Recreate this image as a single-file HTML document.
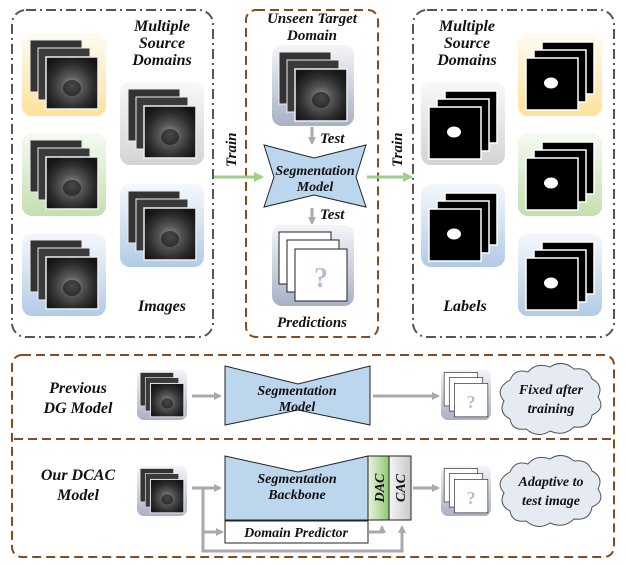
<!DOCTYPE html>
<html><head><meta charset="utf-8"><style>
html,body{margin:0;padding:0;background:#fff;}
svg{display:block;}
text{font-family:"Liberation Serif",serif;font-style:italic;font-weight:bold;fill:#111;}
</style></head><body>
<svg width="626" height="565" viewBox="0 0 626 565" xmlns="http://www.w3.org/2000/svg">
<defs>
<linearGradient id="gy" x1="0" y1="0" x2="0" y2="1"><stop offset="0" stop-color="#fdfbf4"/><stop offset="1" stop-color="#fde29a"/></linearGradient>
<linearGradient id="gg" x1="0" y1="0" x2="0" y2="1"><stop offset="0" stop-color="#f6faf3"/><stop offset="1" stop-color="#c3dfae"/></linearGradient>
<linearGradient id="gb" x1="0" y1="0" x2="0" y2="1"><stop offset="0" stop-color="#f5f8fc"/><stop offset="1" stop-color="#b2cbe6"/></linearGradient>
<linearGradient id="gr" x1="0" y1="0" x2="0" y2="1"><stop offset="0" stop-color="#f8f8f8"/><stop offset="1" stop-color="#d4d4d4"/></linearGradient>
<linearGradient id="gs" x1="0" y1="0" x2="0" y2="1"><stop offset="0" stop-color="#f4f5f8"/><stop offset="1" stop-color="#a7b1c6"/></linearGradient>
<linearGradient id="gdac" x1="0" y1="0" x2="1" y2="0"><stop offset="0" stop-color="#e9f4e0"/><stop offset="1" stop-color="#8fc873"/></linearGradient>
<linearGradient id="gcac" x1="0" y1="0" x2="1" y2="0"><stop offset="0" stop-color="#f6f6f6"/><stop offset="1" stop-color="#c8c8c8"/></linearGradient>
<radialGradient id="mri" cx="0.5" cy="0.55" r="0.6"><stop offset="0" stop-color="#9a9a9a"/><stop offset="0.35" stop-color="#555"/><stop offset="0.7" stop-color="#2c2c2c"/><stop offset="1" stop-color="#151515"/></radialGradient>
<symbol id="mriS" viewBox="0 0 84 84">
<rect x="8" y="7" width="52" height="52" fill="#333" stroke="#eee" stroke-width="1"/>
<rect x="16" y="15" width="52" height="52" fill="#3a3a3a" stroke="#eee" stroke-width="1"/>
<rect x="24" y="24" width="52" height="52" fill="url(#mri)" stroke="#eee" stroke-width="1.5"/>
<ellipse cx="50" cy="55" rx="9" ry="8" fill="#111" opacity="0.6"/>
</symbol>
<symbol id="labS" viewBox="0 0 84 84">
<rect x="24" y="9" width="52" height="52" fill="#000" stroke="#fff" stroke-width="1.5"/>
<rect x="16" y="17" width="52" height="52" fill="#000" stroke="#fff" stroke-width="1.5"/>
<rect x="8" y="25" width="52" height="52" fill="#000" stroke="#fff" stroke-width="1.5"/>
<ellipse cx="33" cy="50" rx="7" ry="5.5" fill="#fff"/>
</symbol>
<symbol id="predS" viewBox="0 0 84 84">
<rect x="8" y="7" width="52" height="52" fill="#fff" stroke="#222" stroke-width="1"/>
<rect x="16" y="15" width="52" height="52" fill="#fff" stroke="#222" stroke-width="1"/>
<rect x="24" y="24" width="52" height="52" fill="#fff" stroke="#222" stroke-width="1"/>
<text x="50" y="62" font-size="28" text-anchor="middle" style="fill:#b5bfd3;font-style:normal">?</text>
</symbol>
<marker id="ag" markerWidth="8" markerHeight="8" refX="6" refY="4" orient="auto" markerUnits="userSpaceOnUse"><path d="M0,0 L8,4 L0,8 z" fill="#aaa"/></marker>
<marker id="agr" markerWidth="10" markerHeight="10" refX="8" refY="5" orient="auto" markerUnits="userSpaceOnUse"><path d="M0,0 L10,5 L0,10 z" fill="#9fcf86"/></marker>
</defs>

<!-- top boxes -->
<rect x="12" y="10" width="201" height="327" rx="14" fill="none" stroke="#555" stroke-width="2" stroke-dasharray="10,4,2,4"/>
<rect x="246" y="10" width="132" height="327" rx="10" fill="none" stroke="#8a4a1a" stroke-width="2" stroke-dasharray="9,5"/>
<rect x="413" y="10" width="201" height="327" rx="14" fill="none" stroke="#555" stroke-width="2" stroke-dasharray="10,4,2,4"/>

<!-- left tiles -->
<rect x="22" y="33" width="84" height="83" rx="10" fill="url(#gy)"/><use href="#mriS" x="22" y="33" width="84" height="84"/>
<rect x="22" y="133" width="84" height="83" rx="10" fill="url(#gg)"/><use href="#mriS" x="22" y="133" width="84" height="84"/>
<rect x="22" y="233" width="84" height="83" rx="10" fill="url(#gb)"/><use href="#mriS" x="22" y="233" width="84" height="84"/>
<rect x="120" y="82" width="84" height="83" rx="10" fill="url(#gr)"/><use href="#mriS" x="120" y="82" width="84" height="84"/>
<rect x="120" y="184" width="84" height="83" rx="10" fill="url(#gb)"/><use href="#mriS" x="120" y="184" width="84" height="84"/>
<text x="162" y="31" font-size="16" text-anchor="middle">Multiple</text>
<text x="162" y="48" font-size="16" text-anchor="middle">Source</text>
<text x="162" y="65" font-size="16" text-anchor="middle">Domains</text>
<text x="162" y="311" font-size="16" text-anchor="middle">Images</text>

<!-- middle -->
<text x="312" y="23" font-size="15" text-anchor="middle">Unseen Target</text>
<text x="312" y="40" font-size="15" text-anchor="middle">Domain</text>
<rect x="272" y="45" width="82" height="81" rx="10" fill="url(#gs)"/><use href="#mriS" x="271" y="45" width="84" height="84"/>
<line x1="312" y1="127" x2="312" y2="143" stroke="#aaa" stroke-width="3" marker-end="url(#ag)"/>
<text x="320" y="143" font-size="15">Test</text>
<path d="M264,145 L314,158 L366,145 L356,177 L366,207 L314,195 L264,207 L274,177 Z" fill="#bcd6ee" stroke="#222" stroke-width="1"/>
<text x="315" y="175" font-size="14" text-anchor="middle">Segmentation</text>
<text x="315" y="191" font-size="14" text-anchor="middle">Model</text>
<line x1="312" y1="208" x2="312" y2="223" stroke="#aaa" stroke-width="3" marker-end="url(#ag)"/>
<text x="320" y="219" font-size="15">Test</text>
<rect x="272" y="225" width="82" height="81" rx="10" fill="url(#gs)"/><use href="#predS" x="271" y="225" width="84" height="84"/>
<text x="312" y="327" font-size="15" text-anchor="middle">Predictions</text>

<!-- train arrows -->
<line x1="214" y1="177" x2="262" y2="177" stroke="#9fcf86" stroke-width="3" marker-end="url(#agr)"/>
<text transform="translate(236,167) rotate(-90)" font-size="15">Train</text>
<line x1="367" y1="177" x2="411" y2="177" stroke="#9fcf86" stroke-width="3" marker-end="url(#agr)"/>
<text transform="translate(402,167) rotate(-90)" font-size="15">Train</text>

<!-- right -->
<text x="467" y="31" font-size="16" text-anchor="middle">Multiple</text>
<text x="467" y="48" font-size="16" text-anchor="middle">Source</text>
<text x="467" y="65" font-size="16" text-anchor="middle">Domains</text>
<text x="465" y="311" font-size="16" text-anchor="middle">Labels</text>
<rect x="421" y="82" width="84" height="83" rx="10" fill="url(#gr)"/><use href="#labS" x="421" y="82" width="84" height="84"/>
<rect x="421" y="184" width="84" height="83" rx="10" fill="url(#gb)"/><use href="#labS" x="421" y="184" width="84" height="84"/>
<rect x="518" y="33" width="84" height="83" rx="10" fill="url(#gy)"/><use href="#labS" x="518" y="33" width="84" height="84"/>
<rect x="518" y="133" width="84" height="83" rx="10" fill="url(#gg)"/><use href="#labS" x="518" y="133" width="84" height="84"/>
<rect x="518" y="233" width="84" height="83" rx="10" fill="url(#gb)"/><use href="#labS" x="518" y="233" width="84" height="84"/>

<!-- bottom box -->
<rect x="12" y="355" width="602" height="202" rx="10" fill="none" stroke="#8a4a1a" stroke-width="2" stroke-dasharray="9,5"/>
<line x1="14" y1="439" x2="612" y2="439" stroke="#8a4a1a" stroke-width="2" stroke-dasharray="9,5"/>

<text x="78" y="393" font-size="16" text-anchor="middle">Previous</text>
<text x="78" y="413" font-size="16" text-anchor="middle">DG Model</text>
<rect x="137" y="370" width="50" height="50" rx="7" fill="url(#gs)"/><use href="#mriS" x="135" y="368" width="54" height="54"/>
<line x1="192" y1="396" x2="220" y2="396" stroke="#aaa" stroke-width="3" marker-end="url(#ag)"/>
<path d="M225,366 L298,384 L370,366 L370,425 L298,410 L225,425 Z" fill="#bcd6ee" stroke="#222" stroke-width="1"/>
<text x="297" y="395" font-size="14" text-anchor="middle">Segmentation</text>
<text x="297" y="411" font-size="14" text-anchor="middle">Model</text>
<line x1="373" y1="396" x2="438" y2="396" stroke="#aaa" stroke-width="3" marker-end="url(#ag)"/>
<rect x="441" y="370" width="50" height="50" rx="7" fill="url(#gs)"/><use href="#predS" x="439" y="368" width="54" height="54"/>
<path d="M510,380 q5,-12 18,-8 q8,-10 22,-5 q12,-8 24,2 q14,-2 18,10 q12,6 6,18 q8,12 -6,18 q-2,14 -18,12 q-10,10 -24,4 q-12,8 -24,-2 q-14,2 -16,-10 q-12,-6 -6,-18 q-10,-12 6,-21 Z" fill="#e5eaf3" stroke="#555" stroke-width="1"/>
<text x="551" y="394" font-size="14" text-anchor="middle">Fixed after</text>
<text x="551" y="413" font-size="14" text-anchor="middle">training</text>

<text x="78" y="480" font-size="16" text-anchor="middle">Our DCAC</text>
<text x="78" y="500" font-size="16" text-anchor="middle">Model</text>
<rect x="137" y="466" width="50" height="50" rx="7" fill="url(#gs)"/><use href="#mriS" x="135" y="464" width="54" height="54"/>
<polyline points="192,488 203,488 203,551 402,551 402,527" fill="none" stroke="#aaa" stroke-width="3" marker-end="url(#ag)"/>
<line x1="203" y1="488" x2="220" y2="488" stroke="#aaa" stroke-width="3" marker-end="url(#ag)"/>
<line x1="203" y1="532" x2="222" y2="532" stroke="#aaa" stroke-width="3" marker-end="url(#ag)"/>
<polyline points="369,532 382,532 382,527" fill="none" stroke="#aaa" stroke-width="3" marker-end="url(#ag)"/>
<path d="M225,456 L298,472 L368,456 L368,520 L298,520 L225,520 Z" fill="#bcd6ee" stroke="#222" stroke-width="1"/>
<text x="297" y="483" font-size="14" text-anchor="middle">Segmentation</text>
<text x="297" y="499" font-size="14" text-anchor="middle">Backbone</text>
<rect x="368" y="456" width="21" height="64" fill="url(#gdac)" stroke="#222" stroke-width="1"/>
<rect x="389" y="456" width="22" height="64" fill="url(#gcac)" stroke="#222" stroke-width="1"/>
<text transform="translate(384,488) rotate(-90)" font-size="14" text-anchor="middle">DAC</text>
<text transform="translate(405,488) rotate(-90)" font-size="14" text-anchor="middle">CAC</text>
<rect x="225" y="521" width="143" height="22" fill="#fff" stroke="#222" stroke-width="1"/>
<text x="296" y="537" font-size="14" text-anchor="middle">Domain Predictor</text>
<line x1="413" y1="488" x2="438" y2="488" stroke="#aaa" stroke-width="3" marker-end="url(#ag)"/>
<rect x="441" y="466" width="50" height="50" rx="7" fill="url(#gs)"/><use href="#predS" x="439" y="464" width="54" height="54"/>
<path d="M510,472 q5,-12 18,-8 q8,-10 22,-5 q12,-8 24,2 q14,-2 18,10 q12,6 6,18 q8,12 -6,18 q-2,14 -18,12 q-10,10 -24,4 q-12,8 -24,-2 q-14,2 -16,-10 q-12,-6 -6,-18 q-10,-12 6,-21 Z" fill="#e5eaf3" stroke="#555" stroke-width="1"/>
<text x="551" y="486" font-size="14" text-anchor="middle">Adaptive to</text>
<text x="551" y="505" font-size="14" text-anchor="middle">test image</text>
</svg>
</body></html>
